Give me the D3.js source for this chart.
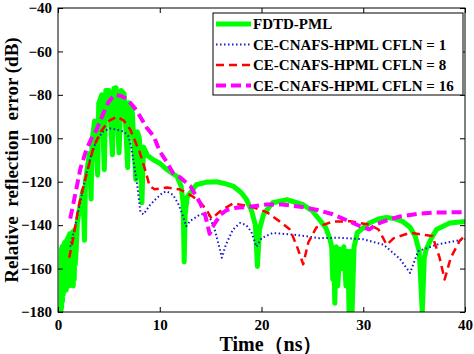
<!DOCTYPE html>
<html><head><meta charset="utf-8">
<script src="https://cdn.jsdelivr.net/npm/d3@7"></script>
<style>body{margin:0;background:#fff}svg{display:block}</style>
</head><body>
<svg id="c" width="474" height="354"></svg>
<script>
// ---- data ----
const xTicks = [0, 10, 20, 30, 40];
const yTicks = [-40, -60, -80, -100, -120, -140, -160, -180];
const seriesNames = ["FDTD-PML", "CE-CNAFS-HPML CFLN = 1", "CE-CNAFS-HPML CFLN = 8", "CE-CNAFS-HPML CFLN = 16"];

const greenT = [0.3,0.33,0.36,0.4,0.44,0.48,0.52,0.56,0.6,0.65,0.7,0.75,0.8,0.85,0.9,0.95,1.0,1.05,1.1,1.15,1.2,1.25,1.3,1.35,1.4,1.45,1.5,1.55,1.6,1.65,1.7,1.8,1.9,2.1,2.3,2.45,2.6,2.7,2.9,3.1,3.25,3.35,3.6,3.9,4.0,4.3,4.55,4.7,5.0,5.35,5.5,5.7,6.0,6.2,6.5,6.85,7.0,7.3,7.65,7.8,8.0,8.25,8.4,8.8,9.4,10,10.7,11.7,12.1,12.3,12.4,12.5,12.7,13.6,14.5,15.6,16.5,17.2,18,18.5,19,19.4,19.6,19.8,20.2,21.1,22.5,24.1,25,25.7,26.3,26.7,26.9,27.0,27.1,27.2,27.35,27.5,27.7,27.9,28.1,28.3,28.5,28.6,28.8,28.9,29.1,29.3,29.4,30.6,31.5,32.3,33.1,33.9,34.6,35.1,35.5,35.8,36.0,36.2,36.7,37.2,38.5,39.8,40];
const greenV = [-180,-151,-178,-150,-175,-152,-172,-149,-170,-148,-166,-150,-170,-147,-165,-146,-163,-145,-168,-144,-166,-145,-162,-144,-160,-143,-168,-143,-165,-142,-158,-150,-139,-133,-128,-124,-147,-120,-113,-107,-128,-101,-92,-117,-84,-80,-114.5,-78,-78,-107.6,-77,-76.7,-106.7,-78,-79.5,-113.5,-83.6,-88,-119,-97,-100,-129.7,-104,-108,-110,-111.5,-114.5,-117.6,-122,-130,-157,-135,-127,-121.4,-120.3,-120,-121,-122,-125,-128,-133,-140,-159,-142,-135,-129.7,-128.3,-130.6,-133.5,-137.5,-141,-146,-150,-165,-152,-176,-150,-168,-151,-160,-150,-168,-152,-180,-152,-180,-150,-146,-143.5,-139,-137.2,-136.5,-137,-138.4,-141,-145,-152,-180,-155,-151,-146,-142,-139,-138.4,-138.4];

const blueT = [1.2,1.7,2.3,2.8,3.3,3.8,4.4,5.1,5.8,6.5,6.9,7.2,7.5,7.8,8.1,8.4,9,9.6,10.3,10.7,11.3,11.8,12.3,12.6,13,14,14.8,15.4,15.9,16.1,16.5,17.2,17.9,18.5,19,19.5,20,21.1,23.4,25.7,27.7,30,32,33.6,34.6,35.4,37.2,39.7,40];
const blueV = [-150,-140,-127,-116,-107,-101,-97,-95.5,-96,-97,-99,-104,-113,-122,-134,-135,-131,-128,-125,-124.5,-126,-130,-136,-140.5,-138,-135,-135,-142,-151,-155,-149,-142,-139,-140,-143,-150,-146,-143.6,-144.5,-146,-145.8,-146.5,-149,-155.5,-162,-152,-149,-146.7,-146.5];

const redT = [1.1,1.5,2.0,2.5,3.0,3.5,4.2,5.0,5.8,6.5,7.1,8,8.6,9,9.5,10.7,12,13.3,14,14.6,15.1,15.6,16.1,17.2,18.9,20.5,22,22.8,23.5,24.1,24.6,25.4,27,28.7,30.6,31.5,32.3,33,34.6,36,36.8,37.5,38,38.6,39.5,40];
const redV = [-155,-146,-132,-122,-113,-104,-97,-92,-90,-92,-96,-106,-115,-122,-123.5,-122.7,-123.6,-127,-129.6,-133,-137,-135,-133,-130,-131.3,-134,-139,-142,-150,-158,-148,-141,-138.4,-138.2,-139.8,-142,-149,-146,-143.5,-144.5,-145,-155,-165,-155,-147,-145];

const magT = [1.2,1.6,2.2,2.8,3.4,3.8,4.5,5.0,5.6,6.2,6.8,7.7,8.7,9.4,10,10.7,11.3,12,13,14,14.5,14.9,15.3,16,16.6,17.5,18.9,20.5,22,23.8,25.5,27,28.5,29.7,30.6,31.3,32.5,33.6,35.3,37,40];
const magV = [-137,-128,-114,-105,-99,-96,-88,-83,-80,-80.5,-82,-87,-95,-99,-106,-111,-116,-118,-122,-130,-136,-144,-140,-135,-133,-132,-131.5,-130.5,-130.5,-131.5,-133,-135,-138,-140.5,-142,-139.5,-137.5,-136,-134.8,-134.2,-134];

// ---- layout ----
const svg = d3.select("#c");
const L = 58, R = 465, T = 8, B = 312;
const x = d3.scaleLinear().domain([0, 40]).range([L, R]);
const y = d3.scaleLinear().domain([-180, -40]).range([B, T]);
const font = "'Liberation Serif','Times New Roman',serif";

svg.append("defs").append("clipPath").attr("id", "clip")
  .append("rect").attr("x", L).attr("y", T).attr("width", R - L).attr("height", B - T);

const g = svg.append("g").attr("clip-path", "url(#clip)");
const line = d3.line().x(d => x(d[0])).y(d => y(d[1]));
const zip = (a, b) => a.map((v, i) => [v, b[i]]);

const styles = [
  {color: "#00ff00", w: 5, dash: null},
  {color: "#1a1acc", w: 2, dash: "1.5,2.5"},
  {color: "#ff0000", w: 2.5, dash: "8,5"},
  {color: "#ff00ff", w: 4, dash: "10,5"}
];
const data = [zip(greenT, greenV), zip(blueT, blueV), zip(redT, redV), zip(magT, magV)];

[0, 1, 2, 3].forEach(i => {
  g.append("path").datum(data[i]).attr("d", line)
    .attr("fill", "none").attr("stroke", styles[i].color)
    .attr("stroke-width", styles[i].w)
    .attr("stroke-linejoin", "round")
    .attr("stroke-dasharray", styles[i].dash);
});

// axes
const fmt = d => d < 0 ? "\u2212" + Math.abs(d) : String(d);
const ax = (gen, tr) => svg.append("g").attr("transform", tr).call(gen);
const styleAxis = sel => {
  sel.select(".domain").remove();
  sel.selectAll("line").attr("stroke", "#000");
  sel.selectAll("text").attr("font-family", font).attr("font-weight", "bold")
    .attr("font-size", 15).attr("fill", "#000");
};
styleAxis(ax(d3.axisBottom(x).tickValues(xTicks).tickFormat(fmt).tickSizeInner(-5).tickSizeOuter(0).tickPadding(7), `translate(0,${B})`));
styleAxis(ax(d3.axisTop(x).tickValues(xTicks).tickFormat("").tickSizeInner(-5).tickSizeOuter(0), `translate(0,${T})`));
styleAxis(ax(d3.axisLeft(y).tickValues(yTicks).tickFormat(fmt).tickSizeInner(-5).tickSizeOuter(0).tickPadding(6), `translate(${L},0)`));
styleAxis(ax(d3.axisRight(y).tickValues(yTicks).tickFormat("").tickSizeInner(-5).tickSizeOuter(0), `translate(${R},0)`));

svg.append("rect").attr("x", L).attr("y", T).attr("width", R - L).attr("height", B - T)
  .attr("fill", "none").attr("stroke", "#000").attr("stroke-width", 1);

// axis titles
svg.append("text").attr("x", 271).attr("y", 351).attr("text-anchor", "middle")
  .attr("font-family", font).attr("font-weight", "bold").attr("font-size", 20)
  .text("Time\uFF08ns\uFF09");
svg.append("text").attr("transform", `translate(18,${(T + B) / 2}) rotate(-90)`)
  .attr("text-anchor", "middle").attr("font-family", font).attr("font-weight", "bold")
  .attr("font-size", 19).attr("xml:space", "preserve").style("white-space", "pre")
  .text("Relative  reflection  error (dB)");

// legend
const lg = svg.append("g");
lg.append("rect").attr("x", 213).attr("y", 13).attr("width", 250).attr("height", 82)
  .attr("fill", "#fff").attr("stroke", "#000").attr("stroke-width", 1);
seriesNames.forEach((n, i) => {
  const yy = 24 + i * 20.5;
  lg.append("line").attr("x1", 216).attr("x2", 251).attr("y1", yy).attr("y2", yy)
    .attr("stroke", styles[i].color).attr("stroke-width", styles[i].w)
    .attr("stroke-dasharray", styles[i].dash);
  lg.append("text").attr("x", 253).attr("y", yy + 5).attr("font-family", font)
    .attr("font-weight", "bold").attr("font-size", 15).text(n);
});
</script>
</body></html>
